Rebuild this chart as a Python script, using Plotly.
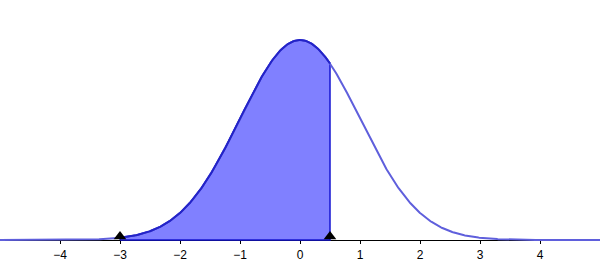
import numpy as np
import plotly.graph_objects as go

# Distribution and shaded interval
mu = 0.0
sigma = 1.0
lower_bound = -3.0
upper_bound = 0.5
x_min, x_max = -5.0, 5.0
tick_values = [-4, -3, -2, -1, 0, 1, 2, 3, 4]

def pdf(x):
    return np.exp(-0.5 * ((x - mu) / sigma) ** 2) / (sigma * np.sqrt(2 * np.pi))

xs = np.linspace(x_min, x_max, 801)
ys = pdf(xs)

xs_shade = np.linspace(lower_bound, upper_bound, 400)
ys_shade = pdf(xs_shade)
poly_x = np.concatenate([[lower_bound], xs_shade, [upper_bound, lower_bound]])
poly_y = np.concatenate([[0.0], ys_shade, [0.0, 0.0]])

peak = pdf(mu)
H = 269
axis_px = 240
peak_px = 40
scale = (axis_px - peak_px) / peak
y_top = axis_px / scale
y_bot = -(H - axis_px) / scale
marker_lift = 3.5 / scale  # style: lift triangles so they sit on the axis

fig = go.Figure()
fig.add_trace(go.Scatter(
    x=poly_x, y=poly_y, mode="lines", fill="toself",
    fillcolor="rgb(128,128,255)",
    line=dict(color="rgb(20,20,210)", width=1.5),
    hoverinfo="skip", showlegend=False,
))
fig.add_trace(go.Scatter(
    x=xs, y=ys, mode="lines",
    line=dict(color="rgb(95,95,220)", width=2),
    hoverinfo="skip", showlegend=False,
))
fig.add_trace(go.Scatter(
    x=xs_shade, y=ys_shade, mode="lines",
    line=dict(color="rgb(35,35,200)", width=2),
    hoverinfo="skip", showlegend=False,
))
fig.add_trace(go.Scatter(
    x=[lower_bound, upper_bound], y=[marker_lift, marker_lift], mode="markers",
    marker=dict(symbol="triangle-up", size=11, color="black"),
    hoverinfo="skip", showlegend=False,
))

fig.update_layout(
    width=600, height=269, autosize=False,
    margin=dict(l=0, r=0, t=0, b=0),
    paper_bgcolor="white", plot_bgcolor="white",
    font=dict(family="Liberation Sans, Arial, sans-serif", size=12, color="black"),
    xaxis=dict(
        range=[x_min, x_max], tickvals=tick_values,
        showgrid=False, zeroline=False,
        showline=True, linecolor="black", linewidth=1.2,
        ticks="outside", ticklen=3, tickcolor="black", tickwidth=1,
        anchor="free", position=(H - axis_px) / H,
        layer="below traces", fixedrange=True,
    ),
    yaxis=dict(
        range=[y_bot, y_top], visible=False, showgrid=False, zeroline=False,
        fixedrange=True,
    ),
)

fig.write_html("out.html")
